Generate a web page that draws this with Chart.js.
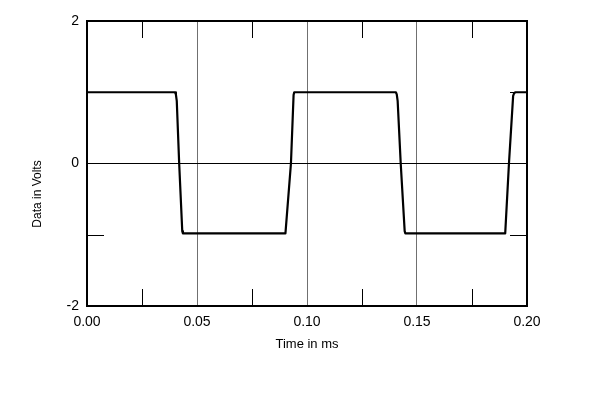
<!DOCTYPE html>
<html><head><meta charset="utf-8">
<script src="https://cdn.jsdelivr.net/npm/chart.js@4.4.1/dist/chart.umd.min.js"></script>
<style>html,body{margin:0;padding:0;background:#fff}#wrap{width:600px;height:405px;position:relative}</style>
</head><body><div id="wrap"><canvas id="c"></canvas></div>
<script>
const timeMs = [0, 0.0400, 0.0404, 0.0408, 0.0419, 0.0433, 0.0436,
                0.0902, 0.0927, 0.0939, 0.0942,
                0.1404, 0.1408, 0.1412, 0.1426, 0.1444, 0.1447,
                0.1901, 0.1918, 0.1937, 0.1942, 0.1948, 0.2000];
const volts  = [1.00, 1.00, 0.97, 0.88, 0.00, -0.95, -0.98,
                -0.98, 0.00, 0.96, 1.00,
                1.00, 0.97, 0.88, 0.00, -0.95, -0.98,
                -0.98, 0.00, 0.95, 0.99, 1.00, 1.00];
const xMinorTicks = [0.025, 0.075, 0.125, 0.175];
const xGridValues = [0.05, 0.10, 0.15];
const yMinorTicks = [-1, 1];
const yGridValues = [0];
const xTitle = 'Time in ms';
const yTitle = 'Data in Volts';

Chart.defaults.font.family = "'Liberation Sans', Arial, sans-serif";
Chart.defaults.color = '#000';

const near = (v, arr) => arr.some(a => Math.abs(a - v) < 1e-6);

const framePlugin = {
  id: 'frame',
  afterDatasetsDraw(chart) {
    const {ctx, chartArea: a, scales: {x, y}} = chart;
    ctx.save();
    ctx.strokeStyle = '#000';
    ctx.lineWidth = 1;
    const L = 17;
    ctx.beginPath();
    xMinorTicks.forEach(v => {
      const px = Math.round(x.getPixelForValue(v)) + 0.5;
      ctx.moveTo(px, a.top); ctx.lineTo(px, a.top + L);
      ctx.moveTo(px, a.bottom); ctx.lineTo(px, a.bottom - L);
    });
    yMinorTicks.forEach(v => {
      const py = Math.round(y.getPixelForValue(v)) + 0.5;
      ctx.moveTo(a.left, py); ctx.lineTo(a.left + L, py);
      ctx.moveTo(a.right, py); ctx.lineTo(a.right - L, py);
    });
    ctx.stroke();
    ctx.lineWidth = 2;
    ctx.strokeRect(a.left, a.top, a.right - a.left, a.bottom - a.top);
    // y axis title
    ctx.translate(38, 194);
    ctx.rotate(-Math.PI / 2);
    ctx.font = "12px 'Liberation Sans', Arial, sans-serif";
    ctx.fillStyle = '#000';
    ctx.textAlign = 'center';
    ctx.textBaseline = 'middle';
    ctx.fillText(yTitle, 0, 0);
    ctx.restore();
  }
};

new Chart(document.getElementById('c'), {
  type: 'line',
  data: {
    datasets: [{
      data: timeMs.map((t, i) => ({x: t, y: volts[i]})),
      borderColor: '#000',
      borderWidth: 2.2,
      borderJoinStyle: 'round',
      borderCapStyle: 'round',
      pointRadius: 0,
      tension: 0,
      fill: false
    }]
  },
  options: {
    responsive: true,
    maintainAspectRatio: false,
    animation: false,
    layout: {padding: {top: 21, right: 73, bottom: 0, left: 0}},
    plugins: {legend: {display: false}, tooltip: {enabled: false}},
    scales: {
      x: {
        type: 'linear', min: 0, max: 0.2,
        border: {display: false},
        grid: {
          drawTicks: false,
          lineWidth: 1,
          color: c => near(c.tick.value, xGridValues) ? '#707070' : 'rgba(0,0,0,0)'
        },
        ticks: {stepSize: 0.05, padding: 8, font: {size: 14}, maxRotation: 0,
                callback: v => Number(v).toFixed(2)},
        title: {display: true, text: xTitle, font: {size: 13}, padding: {top: 0, bottom: 53}},
        afterFit: s => { s.height = 99; }
      },
      y: {
        type: 'linear', min: -2, max: 2,
        border: {display: false},
        grid: {
          drawTicks: false,
          lineWidth: 1,
          color: c => near(c.tick.value, yGridValues) ? '#000' : 'rgba(0,0,0,0)'
        },
        ticks: {stepSize: 2, padding: 8, font: {size: 14}},
        afterFit: s => { s.width = 87; }
      }
    }
  },
  plugins: [framePlugin]
});
</script></body></html>
